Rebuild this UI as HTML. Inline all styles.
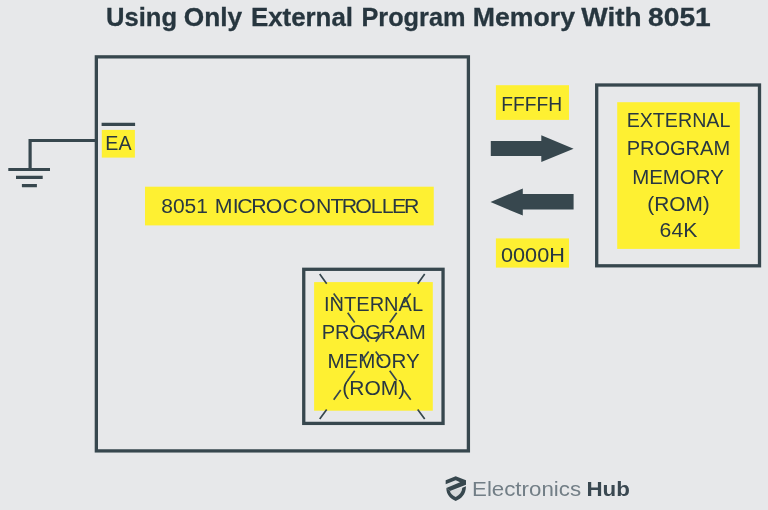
<!DOCTYPE html>
<html>
<head>
<meta charset="utf-8">
<title>Using Only External Program Memory With 8051</title>
<style>
  html, body { margin: 0; padding: 0; }
  body { width: 768px; height: 510px; overflow: hidden; background: #e7e8ea; font-family: "Liberation Sans", sans-serif; }
  svg { display: block; will-change: transform; }
  text { font-family: "Liberation Sans", sans-serif; fill: #283741; }
  .ttl text { fill: #27363f; stroke: #27363f; stroke-width: 0.3px; }
  text.lg1 { fill: #727e86; }
  text.lg2 { fill: #3a4851; }
</style>
</head>
<body>
<svg width="768" height="510" viewBox="0 0 768 510">

  <!-- Title -->
  <g class="ttl">
    <text transform="translate(106.10 26.1) scale(0.9613 1)" font-size="26.6" font-weight="bold">Using</text>
    <text transform="translate(183.78 26.1) scale(0.9887 1)" font-size="26.6" font-weight="bold">Only</text>
    <text transform="translate(250.88 26.1) scale(0.9731 1)" font-size="26.6" font-weight="bold">External</text>
    <text transform="translate(361.42 26.1) scale(0.9519 1)" font-size="26.6" font-weight="bold">Program</text>
    <text transform="translate(472.83 26.1) scale(1.0020 1)" font-size="26.6" font-weight="bold">Memory</text>
    <text transform="translate(581.20 26.1) scale(1.0538 1)" font-size="26.6" font-weight="bold">With</text>
    <text transform="translate(648.02 26.1) scale(1.0610 1)" font-size="26.6" font-weight="bold">8051</text>
  </g>

  <!-- Main microcontroller box -->
  <rect x="96.35" y="56.85" width="372.05" height="394.05" fill="none" stroke="#37474e" stroke-width="3.3"/>

  <!-- Ground wire and symbol -->
  <path d="M96.3 140.5 H30.1 V169.5" fill="none" stroke="#37474e" stroke-width="3.2"/>
  <path d="M8.3 169.5 H50 M16 177.3 H42.7 M21.9 185.6 H36.9" fill="none" stroke="#37474e" stroke-width="3.2"/>

  <!-- EA (active low) -->
  <path d="M101.6 124.4 H135.1" stroke="#37474e" stroke-width="3.2"/>
  <rect x="101.8" y="129.9" width="33.1" height="27.7" fill="#fef032"/>
  <text transform="translate(105.36 149.8) scale(0.9690 1)" font-size="20.3">EA</text>

  <!-- 8051 MICROCONTROLLER -->
  <rect x="145" y="186.7" width="288.75" height="38.7" fill="#fef032"/>
  <text transform="translate(161.24 213.2) scale(1.0343 1)" font-size="20.3">8051</text>
  <text transform="scale(1.05 1)" x="204.53 221.66 225.97 239.31 253.13 268.96 284.85 300.90 314.86 325.51 338.26 353.15 363.58 373.34 384.75" y="213.2" font-size="20.3">MICROCONTROLLER</text>

  <!-- Internal ROM box (crossed out) -->
  <rect x="303.75" y="269.3" width="139.3" height="154.1" fill="none" stroke="#37474e" stroke-width="3.3"/>
  <rect x="314.1" y="282.1" width="118.7" height="128.6" fill="#fef032"/>
  <g>
    <text transform="translate(324.04 310.5) scale(0.9868 1)" font-size="20.3">INTERNAL</text>
    <text transform="translate(321.63 338.8) scale(0.9928 1)" font-size="20.3">PROGRAM</text>
    <text transform="translate(327.49 367.5) scale(1.0137 1)" font-size="20.3">MEMORY</text>
    <text transform="translate(342.31 395.1) scale(1.0360 1)" font-size="20.3">(ROM)</text>
  </g>
  <path d="M319.7 274.1 L424.7 419.1" stroke="#37474e" stroke-width="1.7" stroke-dasharray="11.935 11.935" fill="none"/>
  <path d="M424.7 274.1 L319.7 419.1" stroke="#37474e" stroke-width="1.7" stroke-dasharray="11.935 11.935" fill="none"/>

  <!-- Address labels and arrows -->
  <rect x="495.9" y="85.2" width="73.1" height="34.7" fill="#fef032"/>
  <text transform="translate(501.30 111.3) scale(0.9489 1)" font-size="20.3">FFFFH</text>
  <polygon points="490.8,140.9 541.3,140.9 541.3,135.3 573.6,148.7 541.3,162.1 541.3,156 490.8,156" fill="#37474e"/>
  <polygon points="573.6,194 522.8,194 522.8,188.5 490.5,202.05 522.8,215.6 522.8,209.6 573.6,209.6" fill="#37474e"/>
  <rect x="495.9" y="238.4" width="73.1" height="29.2" fill="#fef032"/>
  <text transform="translate(501.02 261.7) scale(1.0673 1)" font-size="20.3">0000H</text>

  <!-- External ROM box -->
  <rect x="596.7" y="85" width="162.8" height="180.8" fill="none" stroke="#37474e" stroke-width="3.3"/>
  <rect x="617.2" y="102.2" width="122.6" height="146.7" fill="#fef032"/>
  <g>
    <text transform="translate(626.67 126.9) scale(0.9678 1)" font-size="20.3">EXTERNAL</text>
    <text transform="translate(626.63 154.9) scale(0.9869 1)" font-size="20.3">PROGRAM</text>
    <text transform="translate(632.20 183.5) scale(1.0070 1)" font-size="20.3">MEMORY</text>
    <text transform="translate(647.22 211.4) scale(1.0275 1)" font-size="20.3">(ROM)</text>
    <text transform="translate(659.61 237.4) scale(1.0443 1)" font-size="20.3">64K</text>
  </g>

  <!-- Logo -->
  <g>
    <path d="M446.2 484.4 L455.7 480.3 L460 482.1 L446.4 488 Z" fill="#dde0e2"/>
    <path d="M450 491 L462.3 487.7 C462 492 459.5 495 455.7 497 C452.5 495.3 450.3 493.5 450 491 Z" fill="#d6d9db"/>
    <path d="M445.67 484.33 L445.67 480.33 L455.67 476.33 L466 480.33 L466 484.67 L450 491 L446.33 488 L460 482.13 L455.67 480.33 Z" fill="#37474e"/>
    <path d="M446.3 488 C446.4 495 450.5 498.8 455.7 501 C461 498.8 465.8 495 466 486.3 L462.3 487.7 C462 492 459.5 495 455.7 497 C452.5 495.3 450.3 493.5 450 491 Z" fill="#37474e"/>
  </g>
  <text transform="translate(472.01 495.7) scale(1.0934 1)" font-size="20.4" class="lg1">Electronics</text>
    <text transform="translate(586.50 495.6) scale(1.0845 1)" font-size="20.6" font-weight="bold" class="lg2">Hub</text>
</svg>
</body>
</html>
